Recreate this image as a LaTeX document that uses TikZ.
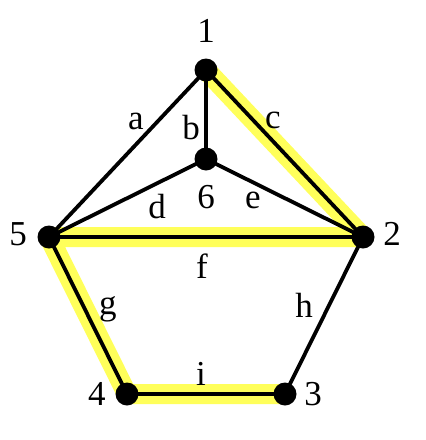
\documentclass[tikz,border=0pt]{standalone}
\usepackage{fontspec}
\setmainfont{Liberation Serif}
\definecolor{hl}{RGB}{255,255,90}
\tikzset{
  vtx/.style={circle, fill=black, minimum size=23pt, inner sep=0pt},
  lab/.style={anchor=base, inner sep=0pt, font=\fontsize{35}{35}\selectfont},
  edge/.style={line width=3.8pt, black},
  glow/.style={line width=20pt, hl, line join=round},
}
\begin{document}
\begin{tikzpicture}[x=1pt, y=-1pt]
\useasboundingbox (0,0) rectangle (426,440);
\coordinate (c1) at (206,70);
\coordinate (c2) at (363,237);
\coordinate (c3) at (285,394);
\coordinate (c4) at (127,394);
\coordinate (c5) at (49,237);
\coordinate (c6) at (206,159);
% highlight
\draw[glow] (c1) -- (c2) -- (c5) -- (c4) -- (c3);
% edges
\draw[edge] (c1) -- (c5);
\draw[edge] (c1) -- (c6);
\draw[edge] (c1) -- (c2);
\draw[edge] (c6) -- (c5);
\draw[edge] (c6) -- (c2);
\draw[edge] (c5) -- (c2);
\draw[edge] (c5) -- (c4);
\draw[edge] (c2) -- (c3);
\draw[edge] (c4) -- (c3);
% vertices
\node[vtx] (v1) at (c1) {};
\node[vtx] (v2) at (c2) {};
\node[vtx] (v3) at (c3) {};
\node[vtx] (v4) at (c4) {};
\node[vtx] (v5) at (c5) {};
\node[vtx] (v6) at (c6) {};
% labels
\node[lab] (n1) at (206,42) {1};
\node[lab] (n2) at (392,245) {2};
\node[lab] (n3) at (313,405) {3};
\node[lab] (n4) at (97,405) {4};
\node[lab] (n5) at (18,245) {5};
\node[lab] (n6) at (206,208) {6};
\node[lab] (la) at (136,129) {a};
\node[lab] (lb) at (191,139) {b};
\node[lab] (lc) at (273,128) {c};
\node[lab] (ld) at (157,218) {d};
\node[lab] (le) at (253,208) {e};
\node[lab] (lf) at (202,278) {f};
\node[lab] (lg) at (108,314) {g};
\node[lab] (lh) at (304,317) {h};
\node[lab] (li) at (201,385) {i};
\end{tikzpicture}
\end{document}
